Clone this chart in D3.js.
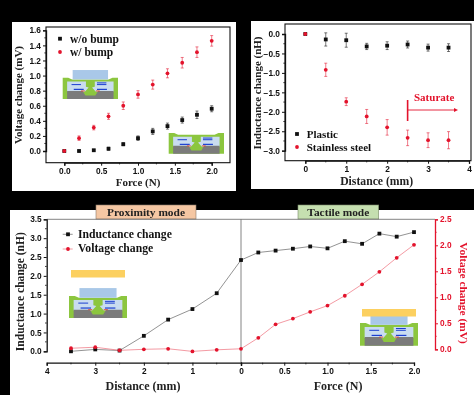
<!DOCTYPE html>
<html><head><meta charset="utf-8">
<script src="https://cdn.jsdelivr.net/npm/d3@7/dist/d3.min.js"></script>
<style>
html,body{margin:0;padding:0;background:#000;}
svg{display:block;filter:blur(0.35px);}
text{font-family:"Liberation Serif",serif;font-weight:bold;}
.tick text{font-family:"Liberation Sans",sans-serif;font-weight:bold;}
</style></head><body>
<svg id="c" width="474" height="395"></svg>
<script>
const forceA=[0,0.2,0.4,0.6,0.8,1.0,1.2,1.4,1.6,1.8,2.0];
const noBump=[0,0,0.01,0.03,0.09,0.17,0.26,0.33,0.41,0.48,0.56];
const noBumpErr=[0,0.01,0.01,0.02,0.02,0.03,0.04,0.04,0.04,0.05,0.04];
const withBump=[0,0.17,0.31,0.46,0.60,0.75,0.88,1.03,1.17,1.31,1.46];
const withBumpErr=[0,0.03,0.03,0.04,0.05,0.05,0.06,0.06,0.07,0.07,0.07];
const distB=[0,0.5,1,1.5,2,2.5,3,3.5];
const plastic=[0,-0.14,-0.16,-0.32,-0.30,-0.27,-0.35,-0.35];
const plasticErr=[0,0.17,0.18,0.08,0.10,0.09,0.09,0.10];
const steel=[0,-0.92,-1.74,-2.12,-2.40,-2.67,-2.73,-2.73];
const steelErr=[0,0.17,0.10,0.18,0.20,0.20,0.19,0.22];
const distC=[3.5,3,2.5,2,1.5,1,0.5,0];
const indDist=[0.0,0.05,0.02,0.41,0.84,1.12,1.54,2.42];
const voltDist=[0.02,0.04,-0.02,0.0,0.01,-0.04,-0.01,0.01];
const forceC=[0.2,0.4,0.6,0.8,1.0,1.2,1.4,1.6,1.8,2.0];
const indForce=[2.62,2.67,2.72,2.78,2.73,2.92,2.85,3.12,3.04,3.16];
const voltForce=[0.22,0.48,0.59,0.72,0.84,1.03,1.25,1.49,1.76,2.01];

const RED="#e3132c",GR="#8cc63f",LB="#a9c8e8",CH="#c9dcf0",GY="#7b7b7b",YL="#fcd060",BL="#1c3fd0";
const svg=d3.select("#c");
const rect=(x,y,w,h,f,s)=>svg.append("rect").attr("x",x).attr("y",y).attr("width",w).attr("height",h).attr("fill",f).attr("stroke",s||"none");
const text=(x,y,t,size,fill,anchor,rot)=>{const e=svg.append("text").text(t).attr("font-size",size).attr("fill",fill||"#111").attr("text-anchor",anchor||"start");
 e.attr("transform",`translate(${x},${y})`+(rot?` rotate(${rot})`:""));return e;};

function axis(g,gen,color){
 const a=svg.append("g").attr("transform",g).call(gen.tickPadding(2));
 a.select(".domain").attr("stroke",color).attr("stroke-width",1.3);
 a.selectAll(".tick line").attr("stroke",color).attr("stroke-width",1);
 a.selectAll(".tick text").attr("fill",color).attr("font-size",8.3);
 return a;
}
function minor(sc,vals,orient,pos,color){
 vals.forEach(v=>{const p=sc(v);
  const l=svg.append("line").attr("stroke",color).attr("stroke-width",0.8);
  if(orient==="h")l.attr("x1",p).attr("x2",p).attr("y1",pos).attr("y2",pos+1.7);
  else if(orient==="l")l.attr("y1",p).attr("y2",p).attr("x1",pos-1.7).attr("x2",pos);
  else l.attr("y1",p).attr("y2",p).attr("x1",pos).attr("x2",pos+1.7);});
}
function points(xs,ys,errs,x,y,color,shape){
 xs.forEach((d,i)=>{
  if(errs&&errs[i]>0){
   const hi=y(ys[i]+errs[i]),lo=y(ys[i]-errs[i]),px=x(d);
   svg.append("path").attr("d",`M${px-1.5},${hi}H${px+1.5}M${px},${hi}V${lo}M${px-1.5},${lo}H${px+1.5}`)
     .attr("stroke",color).attr("stroke-width",0.7).attr("fill","none").attr("opacity",0.8);
  }
  mark(x(d),y(ys[i]),color,shape);
 });
}
function mark(px,py,color,shape){
 if(shape==="s")svg.append("rect").attr("x",px-1.9).attr("y",py-1.9).attr("width",3.8).attr("height",3.8).attr("fill",color);
 else svg.append("circle").attr("cx",px).attr("cy",py).attr("r",1.9).attr("fill",color);
}
function inset(x,y,w,h,opts){
 const X=f=>x+f*w,Y=f=>y+f*h;
 const poly=(pts,f)=>svg.append("path").attr("d","M"+pts.map(p=>X(p[0])+","+Y(p[1])).join("L")+"Z").attr("fill",f);
 poly([[0,0],[0.1,0],[0.17,0.08],[0.83,0.08],[0.9,0],[1,0],[1,1],[0,1]],GR);
 poly([[0.08,0.18],[0.42,0.18],[0.42,0.42],[0.47,0.46],[0.40,0.66],[0.08,0.66]],CH);
 poly([[0.58,0.18],[0.92,0.18],[0.92,0.66],[0.60,0.66],[0.53,0.46],[0.58,0.42]],CH);
 poly([[0.08,0.62],[0.36,0.62],[0.41,0.84],[0.59,0.84],[0.64,0.62],[0.92,0.62],[0.92,1],[0.08,1]],GY);
 [[0.16,0.30],[0.62,0.30]].forEach(p=>rect(X(p[0]),Y(p[1]),0.17*w,1,BL));
 [[0.2,0.52],[0.62,0.52]].forEach(p=>rect(X(p[0]),Y(p[1]),0.18*w,1.2,BL));
 rect(X(0.62),Y(0.22),0.17*w,1,BL);
 rect(X(0.33),Y(0.6),0.07*w,1,"#e0503c");rect(X(0.6),Y(0.6),0.07*w,1,"#e0503c");
 if(opts.blue)rect(X(0.18),Y(-0.36),0.64*w,0.44*h,LB);
 if(opts.yellow)rect(X(0)+2,y+opts.yellow,w-4,7.5,YL);
}

// backgrounds
rect(12,22,224,169,"#fff");
rect(251,21,223,168,"#fff");
rect(10,210,464,185,"#fff");

// Panel A
const ax=d3.scaleLinear().domain([0,2]).range([64.3,211.7]);
const ay=d3.scaleLinear().domain([0,1.6]).range([151,30.3]);
inset(62.7,77.7,55.3,21.3,{blue:true});
inset(168.7,133,55.3,20.7,{});
axis("translate(0,162.7)",d3.axisBottom(ax).tickValues([0,0.5,1,1.5,2]).tickFormat(d3.format(".1f")).tickSize(3),"#111");
axis("translate(46,0)",d3.axisLeft(ay).tickValues(d3.range(0,1.61,0.2)).tickFormat(d3.format(".1f")).tickSize(3),"#111");
rect(46,27,184,135.7,"none","#111").attr("stroke-width",1.1);
minor(ax,[0.25,0.75,1.25,1.75],"h",162.7,"#111");
minor(ay,d3.range(0.1,1.6,0.2),"l",46,"#111");
points(forceA,noBump,noBumpErr,ax,ay,"#111","s");
points(forceA,withBump,withBumpErr,ax,ay,RED,"c");
mark(60,38.7,"#111","s");mark(60,52,RED,"c");
text(70,42.5,"w/o bump",11.5);text(70,56,"w/ bump",11.5);
text(138,186,"Force (N)",11,"#222","middle");
text(22,95,"Voltage change (mV)",11,"#222","middle",-90);

// Panel B
const bx=d3.scaleLinear().domain([0,4]).range([305.3,469]);
const by=d3.scaleLinear().domain([0,-3]).range([34,150.7]);
axis("translate(0,160.7)",d3.axisBottom(bx).tickValues([0,1,2,3,4]).tickFormat(d3.format("d")).tickSize(3),"#111");
axis("translate(285,0)",d3.axisLeft(by).tickValues(d3.range(0,-3.01,-0.5)).tickFormat(d3.format(".1f")).tickSize(3),"#111");
rect(285,24,186,136.7,"none","#111").attr("stroke-width",1.1);
minor(bx,[0.5,1.5,2.5,3.5],"h",160.7,"#111");
minor(by,[-0.25,-0.75,-1.25,-1.75,-2.25,-2.75],"l",285,"#111");
points(distB,plastic,plasticErr,bx,by,"#111","s");
points(distB,steel,steelErr,bx,by,RED,"c");
mark(297,134,"#111","s");mark(297,147,RED,"c");
text(306.7,137.5,"Plastic",11);text(306.7,150.5,"Stainless steel",11);
text(376.7,185,"Distance (mm)",11.7,"#222","middle");
text(261,93,"Inductance change (nH)",11,"#222","middle",-90);
text(414,100.5,"Saturate",11,RED);
svg.append("line").attr("x1",bx(2.5)).attr("x2",bx(2.5)).attr("y1",100).attr("y2",121).attr("stroke",RED).attr("stroke-width",1.6);
svg.append("line").attr("x1",bx(2.5)).attr("x2",456).attr("y1",110).attr("y2",110).attr("stroke",RED).attr("stroke-width",0.9);
svg.append("path").attr("d","M458,110L454,108L454,112Z").attr("fill",RED);

// Panel C
const dx=d3.scaleLinear().domain([4,0]).range([46.7,241]);
const fx=d3.scaleLinear().domain([0,2]).range([241,414]);
const ly=d3.scaleLinear().domain([0,3.5]).range([351.3,219.3]);
const ry=d3.scaleLinear().domain([0,2.5]).range([349.3,219.3]);
rect(96,205,100,14,"#f5c7a3","#8a7a6a").attr("stroke-width",0.6);
rect(298,205,80.7,14,"#c5dfb0","#7a8a6a").attr("stroke-width",0.6);
text(146,216,"Proximity mode",11.4,"#222","middle");
text(338.3,216,"Tactile mode",11.4,"#222","middle");
inset(69,296,58,22,{blue:true,yellow:-26});
inset(360,323,58,22.7,{blue:true,yellow:-14});
svg.append("line").attr("x1",46.7).attr("x2",435).attr("y1",219.3).attr("y2",219.3).attr("stroke","#666").attr("stroke-width",0.8);
svg.append("line").attr("x1",241).attr("x2",241).attr("y1",219.3).attr("y2",362.7).attr("stroke","#666").attr("stroke-width",0.8);
axis("translate(46.7,0)",d3.axisLeft(ly).tickValues(d3.range(0,3.51,0.5)).tickFormat(d3.format(".1f")).tickSize(3),"#111");
axis("translate(435,0)",d3.axisRight(ry).tickValues(d3.range(0,2.51,0.5)).tickFormat(d3.format(".1f")).tickSize(3),RED);
axis("translate(0,362.7)",d3.axisBottom(dx).tickValues([4,3,2,1]).tickFormat(d3.format("d")).tickSize(3),"#111");
axis("translate(0,362.7)",d3.axisBottom(fx).tickValues([0,0.5,1,1.5,2]).tickFormat((d,i)=>i?d3.format(".1f")(d):"0").tickSize(3),"#111");
minor(dx,[3.5,2.5,1.5,0.5],"h",362.7,"#111");
minor(fx,[0.25,0.75,1.25,1.75],"h",362.7,"#111");
minor(ly,[0.25,0.75,1.25,1.75,2.25,2.75,3.25],"l",46.7,"#111");
minor(ry,[0.25,0.75,1.25,1.75,2.25],"r",435,RED);
const xsC=[...distC.map(d=>dx(d)),...forceC.map(d=>fx(d))];
const lineGen=d3.line();
const indY=[...indDist,...indForce].map(v=>ly(v));
const voltY=[...voltDist,...voltForce].map(v=>ry(v));
svg.append("path").attr("d",lineGen(xsC.map((p,i)=>[p,indY[i]]))).attr("fill","none").attr("stroke","#777").attr("stroke-width",0.8);
svg.append("path").attr("d",lineGen(xsC.map((p,i)=>[p,voltY[i]]))).attr("fill","none").attr("stroke","#f0808c").attr("stroke-width",0.8);
xsC.forEach((p,i)=>mark(p,indY[i],"#111","s"));
xsC.forEach((p,i)=>mark(p,voltY[i],RED,"c"));
[[234.3,"#777","#111","s"],[249,"#f0808c",RED,"c"]].forEach(r=>{
 svg.append("line").attr("x1",62.7).attr("x2",72.7).attr("y1",r[0]).attr("y2",r[0]).attr("stroke",r[1]).attr("stroke-width",0.8);
 mark(68,r[0],r[2],r[3]);
});
text(78,237.5,"Inductance change",11.7);
text(78,252,"Voltage change",11.7);
text(143,390,"Distance (mm)",12,"#222","middle");
text(338,390,"Force (N)",12,"#222","middle");
text(24,291.7,"Inductance change (nH)",11.6,"#222","middle",-90);
text(460,293,"Voltage change (mV)",11.4,RED,"middle",90);
</script></body></html>
